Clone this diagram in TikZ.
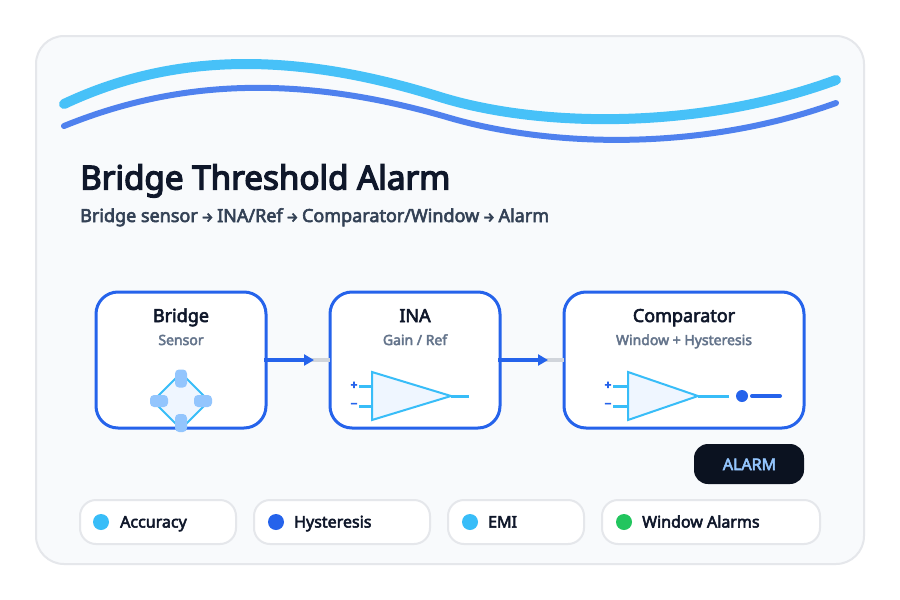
\documentclass[tikz,border=0pt]{standalone}
\usepackage{fontspec}
\setmainfont{Noto Sans}
\newfontfamily\med{Noto Sans}[FakeBold=3.2]
\newfontfamily\hvy{Noto Sans}[FakeBold=4]
\newfontfamily\sgnf{Noto Sans}[FakeBold=6]
\newfontfamily\arw{Fira Sans Medium}[FakeBold=1.5]
\usetikzlibrary{arrows.meta}
\definecolor{cyanc}{HTML}{38BDF8}
\definecolor{bluec}{HTML}{2563EB}
\definecolor{padc}{HTML}{93C5FD}
\definecolor{icef}{HTML}{EFF6FF}
\definecolor{inkc}{HTML}{0F172A}
\definecolor{subc}{HTML}{334155}
\definecolor{mutedc}{HTML}{64748B}
\definecolor{edgec}{HTML}{E5E7EB}
\definecolor{panelc}{HTML}{F8FAFC}
\definecolor{wirec}{HTML}{D1D5DB}
\definecolor{darkc}{HTML}{0B1220}
\definecolor{greenc}{HTML}{22C55E}
\newcommand{\smallarrow}{\makebox[10pt]{\fontsize{13.5}{16}\selectfont\arw →}}
\tikzset{
  x=1pt,y=-1pt,
  stagebox/.style={draw=bluec,line width=3pt,fill=white,rounded corners=22pt,inner sep=0pt,outer sep=0pt,minimum height=136pt},
  pillbox/.style={draw=edgec,line width=2pt,fill=white,rounded corners=16pt,inner sep=0pt,outer sep=0pt,minimum height=44pt},
  amp/.style={draw=cyanc,line width=2pt,fill=icef,line join=miter},
  stub/.style={cyanc,line width=3pt},
  pad/.style={fill=padc,rounded corners=4pt},
  flow/.style={bluec,line width=4pt,shorten <=-2pt,-{Triangle[length=10pt,width=11pt]}},
  wire/.style={wirec,line width=4pt},
  ttl/.style={font=\fontsize{18}{20}\selectfont\med,text=inkc,inner sep=0pt,anchor=base},
  subl/.style={font=\fontsize{14}{16}\selectfont\med,text=mutedc,inner sep=0pt,anchor=base},
  leg/.style={font=\fontsize{16}{18}\selectfont\med,text=inkc,inner sep=0pt,anchor=base west},
  sgn/.style={font=\fontsize{12}{12}\selectfont\sgnf,text=bluec,inner sep=0pt},
}
\begin{document}
\begin{tikzpicture}
\useasboundingbox (0,0) rectangle (900,600);
\fill[white] (0,0) rectangle (900,600);
\draw[draw=edgec,line width=2pt,fill=panelc,rounded corners=28pt] (36,36) rectangle (864,564);
% waves
\draw[cyanc,opacity=.92,line width=10pt,line cap=round] (64,104) .. controls (170,54) and (290,50) .. (440,97) .. controls (540,128) and (700,130) .. (836,80);
\draw[bluec,opacity=.8,line width=6pt,line cap=round] (64,126) .. controls (170,83) and (290,71) .. (450,118) .. controls (550,147) and (700,152) .. (836,103);
% title
\node[font=\fontsize{33.2}{38}\selectfont\hvy,text=inkc,inner sep=0pt,anchor=base west] (title) at (80,189.5) {Bridge Threshold Alarm};
\node[font=\fontsize{18}{20}\selectfont\med,text=subc,inner sep=0pt,anchor=base west] (subtitle) at (80,222) {Bridge sensor \smallarrow{} INA/Ref \smallarrow{} Comparator/Window \smallarrow{} Alarm};
% boxes
\node[stagebox,minimum width=170pt] (bridge) at (181,360) {};
\node[stagebox,minimum width=170pt] (ina) at (415,360) {};
\node[stagebox,minimum width=240pt] (comp) at (684,360) {};
\coordinate (tipA) at (314,360);
\coordinate (tipB) at (548,360);
\draw[wire] (bridge.east) -- (ina.west);
\draw[wire] (ina.east) -- (comp.west);
\draw[flow] (bridge.east) -- (tipA);
\draw[flow] (ina.east) -- (tipB);
\node[ttl] (bridgeT) at (181,322) {Bridge};
\node[subl] (bridgeS) at (181,345) {Sensor};
\node[ttl] (inaT) at (415,322) {INA};
\node[subl] (inaS) at (415,345) {Gain / Ref};
\node[ttl] (compT) at (684,322) {Comparator};
\node[subl] (compS) at (684,345) {Window + Hysteresis};
% bridge symbol
\draw[amp] (181,373) -- (209,401) -- (181,429) -- (153,401) -- cycle;
\fill[pad] (175,369.5) rectangle (187,387.5);
\fill[pad] (175,414) rectangle (187,432);
\fill[pad] (150,395) rectangle (168,407);
\fill[pad] (194,395) rectangle (212,407);
% INA amp
\draw[stub] (359,386) -- (373,386);
\draw[stub] (359,406) -- (373,406);
\draw[stub] (451,396) -- (469,396);
\draw[amp] (372,372) -- (451,396) -- (372,420) -- cycle;
\node[sgn] (inaP) at (354,385.5) {+};
\node[sgn] (inaM) at (354,405.5) {−};
% comparator amp
\draw[stub] (613,386) -- (629,386);
\draw[stub] (613,406) -- (629,406);
\draw[stub] (698,396) -- (729,396);
\draw[amp] (628,372) -- (698,396) -- (628,420) -- cycle;
\node[sgn] (compP) at (608,385.5) {+};
\node[sgn] (compM) at (608,405.5) {−};
\fill[bluec] (742,396) circle (6);
\draw[bluec,line width=4pt,line cap=round] (752,396) -- (780,396);
% alarm
\fill[darkc,rounded corners=14pt] (694,444) rectangle (804,484);
\node[font=\fontsize{16}{18}\selectfont\med,text=padc,inner sep=0pt,anchor=base] (alarm) at (749.5,470) {ALARM};
% legend
\node[pillbox,minimum width=156pt] (pillA) at (158,522) {};
\node[pillbox,minimum width=176pt] (pillB) at (342,522) {};
\node[pillbox,minimum width=136pt] (pillC) at (516,522) {};
\node[pillbox,minimum width=218pt] (pillD) at (711,522) {};
\fill[cyanc] (101,522) circle (8);
\fill[bluec] (276,522) circle (8);
\fill[cyanc] (470,522) circle (8);
\fill[greenc] (624,522) circle (8);
\node[leg] (l1) at (120,527.5) {Accuracy};
\node[leg] (l2) at (294,527.5) {Hysteresis};
\node[leg] (l3) at (488,527.5) {EMI};
\node[leg] (l4) at (642,527.5) {Window Alarms};
\end{tikzpicture}
\end{document}
